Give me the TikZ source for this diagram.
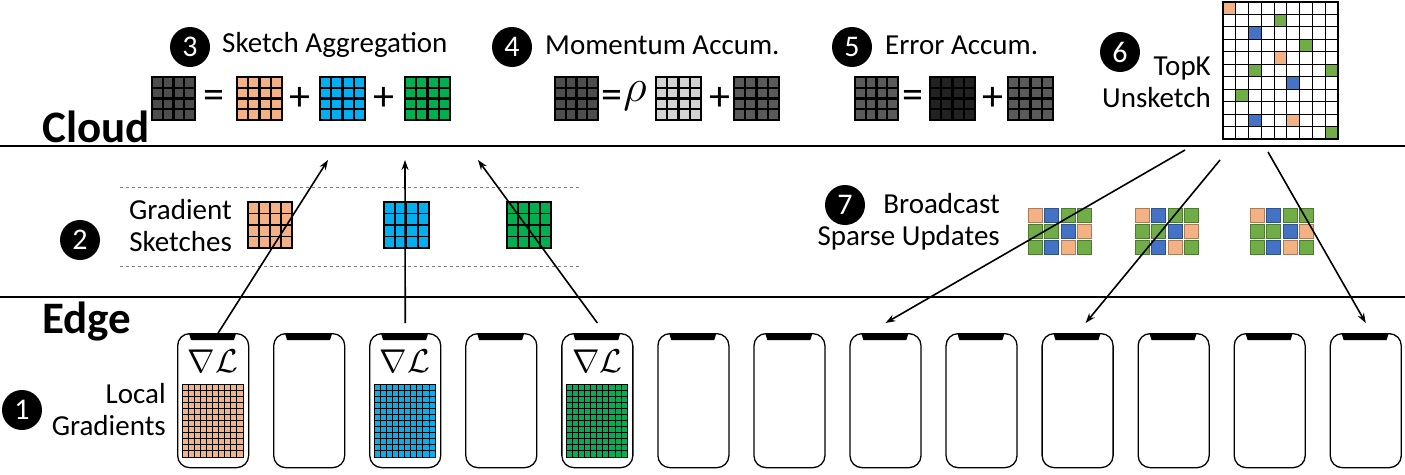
\RequirePackage{fix-cm}
\documentclass[tikz,border=0pt]{standalone}
\usepackage{fontspec}
\setmainfont{Carlito}
\usetikzlibrary{arrows.meta}
\DeclareMathSizes{33}{33}{24}{18}
\DeclareMathSizes{46}{46}{34}{24}
\definecolor{corg}{HTML}{F4B183}
\definecolor{cblu}{HTML}{00B0F0}
\definecolor{cgrn}{HTML}{00B050}
\definecolor{cdk}{HTML}{4D4D4D}
\definecolor{cdk2}{HTML}{5A5A5A}
\definecolor{clt}{HTML}{D3D3D3}
\definecolor{cblk}{HTML}{222222}
\definecolor{sorg}{HTML}{F4B183}
\definecolor{sblu}{HTML}{4472C4}
\definecolor{sgrn}{HTML}{70AD47}
\newcommand\mkgrid[8]{% x y w h nx ny fill linewidth
  \fill[#7] (#1,#2) rectangle ++(#3,#4);
  \pgfmathsetmacro\dxg{#3/#5}\pgfmathsetmacro\dyg{#4/#6}
  \foreach \i in {1,...,\numexpr#5-1\relax}{\draw[line width=#8] ({#1+\i*\dxg},#2) -- ++(0,#4);}
  \foreach \j in {1,...,\numexpr#6-1\relax}{\draw[line width=#8] (#1,{#2+\j*\dyg}) -- ++(#3,0);}
  \draw[line width=#8] (#1,#2) rectangle ++(#3,#4);
}
\newcommand\sq[3]{\filldraw[#3!100, draw=#3!70!black, line width=0.8pt] (#1,#2) rectangle ++(14,14);}
\newcommand\sparse[2]{% x y
  \sq{#1}{#2}{sorg}\sq{#1+16.5}{#2}{sblu}\sq{#1+33}{#2}{sgrn}\sq{#1+49.5}{#2}{sgrn}
  \sq{#1}{#2+16}{sgrn}\sq{#1+16.5}{#2+16}{sgrn}\sq{#1+33}{#2+16}{sblu}\sq{#1+49.5}{#2+16}{sorg}
  \sq{#1}{#2+32}{sgrn}\sq{#1+16.5}{#2+32}{sblu}\sq{#1+33}{#2+32}{sorg}\sq{#1+49.5}{#2+32}{sgrn}
}
\tikzset{
  num/.style={circle,fill=black,text=white,inner sep=0pt,minimum size=40pt,font=\fontsize{30}{30}\selectfont},
  lbl/.style={font=\fontsize{29}{32}\selectfont,inner sep=0pt},
  big/.style={font=\fontsize{45}{45}\selectfont\bfseries,inner sep=0pt,anchor=west},
  op/.style={font=\fontsize{42}{42}\selectfont,inner sep=0pt},
  phone/.style={draw,line width=1.3pt,rounded corners=12pt,minimum width=71pt,minimum height=134pt,inner sep=0pt},
  arr/.style={line width=1.6pt,-{Stealth[length=10pt,width=7pt]}},
}
\begin{document}
\begin{tikzpicture}[x=1pt,y=-1pt]
\useasboundingbox (0,0) rectangle (1405,474);
% lines
\draw[line width=1.8pt] (0,146) -- (1405,146);
\draw[line width=1.8pt] (0,297) -- (1405,297);
\draw[gray,dashed,line width=0.6pt] (120,187) -- (580,187);
\draw[gray,dashed,line width=0.6pt] (120,266) -- (580,266);
\node[big] (cloud) at (42,127) {Cloud};
\node[big] (edge) at (42,322) {Edge};
% numbers and labels
\node[num] (n1) at (22,410) {1};
\node[lbl,align=right,anchor=east] (l1) at (166,410) {Local\\Gradients};
\node[num] (n2) at (80,240) {2};
\node[lbl,align=right,anchor=east] (l2) at (232,226) {Gradient\\Sketches};
\node[num] (n3) at (190,47) {3};
\node[lbl,anchor=west] (l3) at (222,45) {Sketch Aggregation};
\node[num] (n4) at (512,47) {4};
\node[lbl,anchor=west] (l4) at (545,45) {Momentum Accum.};
\node[num] (n5) at (852,47) {5};
\node[lbl,anchor=west] (l5) at (885,45) {Error Accum.};
\node[num] (n6) at (1120,52) {6};
\node[lbl,align=right,anchor=east] (l6) at (1211,82) {TopK\\Unsketch};
\node[num] (n7) at (845,205) {7};
\node[lbl,align=right,anchor=east] (l7) at (1000,222) {Broadcast\\Sparse Updates};
% top equations
\mkgrid{152}{77}{43}{43}{4}{4}{cdk}{2.2pt}
\node[op] (e1) at (214,99) {=};
\mkgrid{237}{77}{45}{43}{4}{4}{corg}{2.2pt}
\node[op] (pl1) at (300,99) {+};
\mkgrid{320}{77}{45}{43}{4}{4}{cblu}{2.2pt}
\node[op] (pl2) at (384,99) {+};
\mkgrid{405}{77}{45}{43}{4}{4}{cgrn}{2.2pt}
\mkgrid{555}{77}{43}{43}{4}{4}{cdk}{2.2pt}
\node[op] (e2) at (612,99) {=};
\node[inner sep=0pt,font=\fontsize{46}{46}\selectfont] (rho) at (635,96) {$\rho$};
\mkgrid{656}{77}{45}{43}{4}{4}{clt}{2.2pt}
\node[op] (pl3) at (720,99) {+};
\mkgrid{734}{77}{45}{43}{4}{4}{cdk2}{2.2pt}
\mkgrid{855}{77}{43}{43}{4}{4}{cdk2}{2.2pt}
\node[op] (e3) at (913,99) {=};
\mkgrid{930}{77}{45}{43}{4}{4}{cblk}{2.2pt}
\node[op] (pl4) at (993,99) {+};
\mkgrid{1008}{77}{45}{43}{4}{4}{cdk2}{2.2pt}
% TopK matrix 9x11
\begin{scope}
\foreach \c/\r/\col in {0/0/sorg,4/1/sgrn,2/2/sblu,6/3/sgrn,4/4/sorg,2/5/sgrn,8/5/sgrn,5/6/sblu,1/7/sgrn,2/9/sblu,5/9/sorg,8/10/sgrn}
  {\fill[\col] ({1223+\c*12.8},{2+\r*12.45}) rectangle ++(12.8,12.45);}
\draw[line width=1.1pt] (1223,2) rectangle (1338,139);
\foreach \i in {1,...,8}{\draw[line width=1.1pt] ({1223+\i*12.78},2) -- ++(0,137);}
\foreach \j in {1,...,10}{\draw[line width=1.1pt] (1223,{2+\j*12.45}) -- ++(115,0);}
\end{scope}
% middle sketches
\mkgrid{248}{202}{44}{46}{4}{4}{corg}{1.8pt}
\mkgrid{384}{202}{45}{46}{4}{4}{cblu}{1.8pt}
\mkgrid{507}{202}{44}{46}{4}{4}{cgrn}{1.8pt}
\sparse{1028}{208}
\sparse{1135}{208}
\sparse{1250}{208}
% phones
\foreach \k in {1,...,13}{
  \pgfmathsetmacro\px{177+(\k-1)*96.05}
  \node[phone,anchor=north west] (p\k) at (\px,333) {};
  \fill (\px+12,333.6) -- (\px+59,333.6) -- (\px+57,340) -- (\px+14,340) -- cycle;
}
\foreach \k/\col in {1/corg,3/cblu,5/cgrn}{
  \pgfmathsetmacro\px{177+(\k-1)*96.05}
  \node[inner sep=0pt,font=\fontsize{33}{33}\selectfont] (g\k) at (\px+36,361) {$\nabla\mathcal{L}$};
  \mkgrid{\px+5}{384}{61}{73}{10}{12}{\col}{0.9pt}
}
% arrows
\coordinate (a1e) at (328,160);
\coordinate (a2e) at (405,160);
\coordinate (a3e) at (478,160);
\draw[arr] ([xshift=5pt]p1.north) -- (a1e);
\draw[arr] ([yshift=10pt]p3.north) -- (a2e);
\draw[arr] ([yshift=10pt]p5.north) -- (a3e);
\coordinate (b1s) at (1185,150);
\coordinate (b2s) at (1220,160);
\coordinate (b3s) at (1268,152);
\draw[arr] (b1s) -- ([yshift=10pt]p8.north);
\draw[arr] (b2s) -- ([yshift=10pt,xshift=8pt]p10.north);
\draw[arr] (b3s) -- ([yshift=10pt]p13.north);
\end{tikzpicture}
\end{document}
